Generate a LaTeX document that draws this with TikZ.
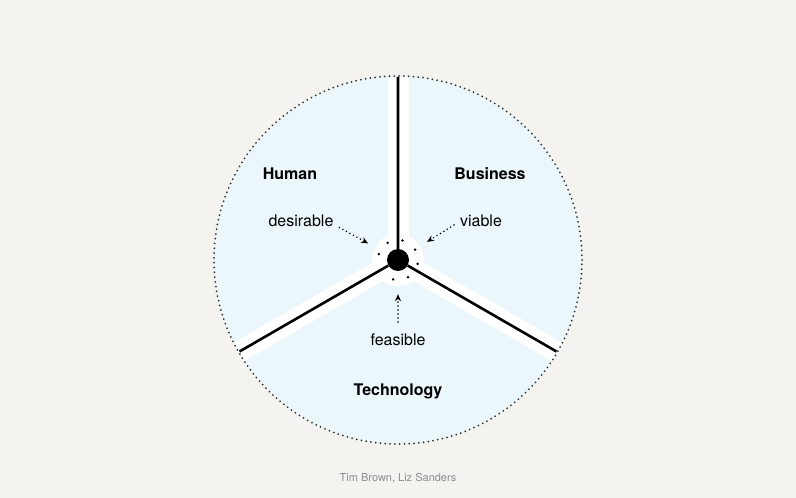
\documentclass[tikz,border=0pt]{standalone}
\usepackage{fontspec}
\setmainfont{TeX Gyre Heros}
\usepackage{xcolor}
\definecolor{paper}{RGB}{244,243,240}
\definecolor{lightblue}{RGB}{236,247,252}
\definecolor{footgray}{RGB}{140,140,140}
\usepackage{tikz}
\usetikzlibrary{calc}
\usetikzlibrary{arrows.meta}
\newcommand{\radiuswheel}{184}
\newcommand{\radiusspoke}{183}
\newcommand{\widthband}{21pt}
\tikzset{
    region/.style={anchor=base, font=\bfseries\fontsize{16}{19}\selectfont},
    quality/.style={anchor=base, font=\fontsize{16}{19}\selectfont},
    band/.style={white, line width=\widthband},
    spoke/.style={black, line width=2.6pt},
    rim/.style={black!80, line width=2pt, line cap=round, dash pattern=on 0pt off 4.8pt},
    hint/.style={->, >={Stealth[length=7pt, width=6pt]}, black, line width=1.7pt, line cap=round, dash pattern=on 0pt off 4pt, shorten >=23pt},
    hub/.style={draw=none, fill=black, circle, inner sep=0pt, minimum size=22pt}
}

\begin{document}
\begin{tikzpicture}[x=1pt, y=1pt]
          \useasboundingbox[fill=paper] (0,0) rectangle (796,498);

          \coordinate (c) at (398,238);
          \fill[lightblue] (c) circle (\radiuswheel);

          \foreach \angle in {90,210,330}
            \draw[band] (c) -- +(\angle:\radiusspoke);
          \fill[white] (c) circle (26);
          \foreach \angle in {31,77,121,163,256,300,349}
            \fill[black] (c) ++(\angle:20) circle (1.4);

          \path
              (c) +(90:\radiusspoke) coordinate (top-end)
                  +(210:\radiusspoke) coordinate (left-end)
                  +(330:\radiusspoke) coordinate (right-end);
          \node[hub] (center) at (c) {};
          \draw[spoke] (center) -- (top-end) (center) -- (left-end) (center) -- (right-end);

          \draw[rim] (c) circle (\radiuswheel);

          \path
              (290,318) node[region] (human) {Human}
              (490,318) node[region] (business) {Business}
              (398,102) node[region] (technology) {Technology}
              (301,271) node[quality] (desirable) {desirable}
              (481,271) node[quality] (viable) {viable}
              (398,152) node[quality] (feasible) {feasible}
              (398,16) node[anchor=base, footgray, font=\fontsize{11}{13}\selectfont] (credit) {Tim Brown, Liz Sanders};

          \path
              (c) +(151:67) coordinate (desirable-tail)
                  +(32:66) coordinate (viable-tail)
                  +(270:62) coordinate (feasible-tail);
          \draw[hint] (desirable-tail) -- (center);
          \draw[hint] (viable-tail) -- (center);
          \draw[hint] (feasible-tail) -- (center);
\end{tikzpicture}
\end{document}
